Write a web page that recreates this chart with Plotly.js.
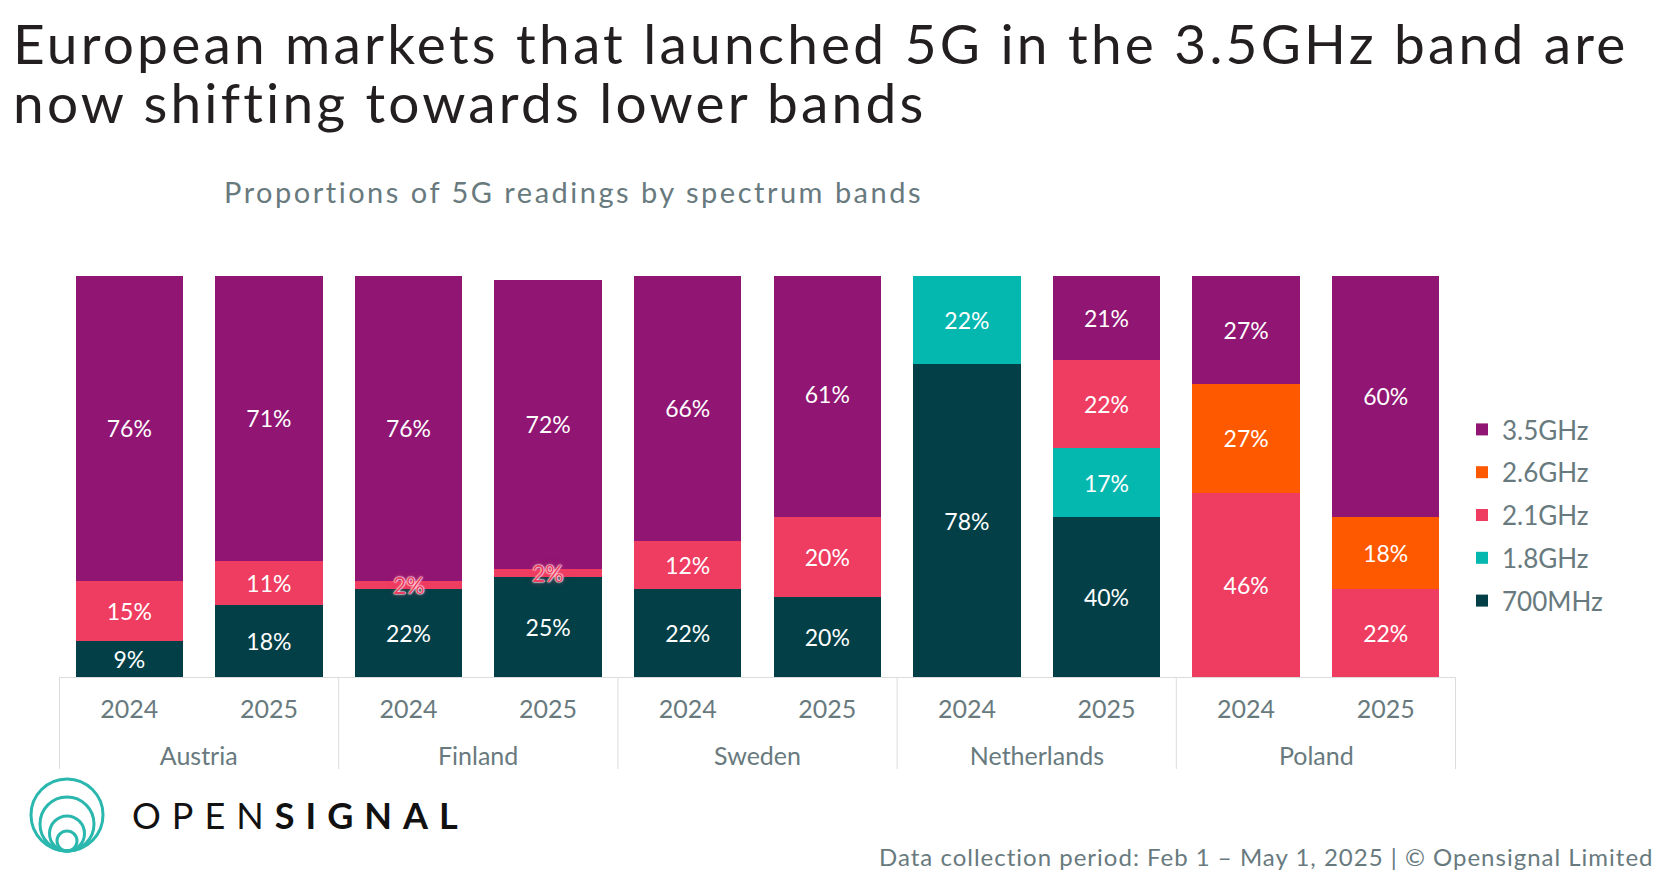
<!DOCTYPE html>
<html>
<head>
<meta charset="utf-8">
<script src="https://cdn.plot.ly/plotly-3.0.1.min.js"></script>
<style>
  html, body { margin: 0; padding: 0; background: #ffffff; }
  #chart { width: 1670px; height: 872px; }
</style>
</head>
<body>
<div id="chart"></div>
<script>
// ---- Data ----
const countries = ['Austria','Austria','Finland','Finland','Sweden','Sweden','Netherlands','Netherlands','Poland','Poland'];
const years     = ['2024','2025','2024','2025','2024','2025','2024','2025','2024','2025'];

const band700MHz = [9, 18, 22, 25, 22, 20, 78, 40, null, null];
const band18GHz  = [null, null, null, null, null, null, 22, 17, null, null];
const band21GHz  = [15, 11, 2, 2, 12, 20, null, 22, 46, 22];
const band26GHz  = [null, null, null, null, null, null, null, null, 27, 18];
const band35GHz  = [76, 71, 76, 72, 66, 61, null, 21, 27, 60];

const seriesNames  = ['700MHz', '1.8GHz', '2.1GHz', '2.6GHz', '3.5GHz'];
const seriesValues = [band700MHz, band18GHz, band21GHz, band26GHz, band35GHz];
const seriesColors = ['#023f47', '#05b8af', '#ef3c61', '#ff5900', '#911573'];

const titleLines = ['European markets that launched 5G in the 3.5GHz band are', 'now shifting towards lower bands'];
const subtitleText = 'Proportions of 5G readings by spectrum bands';
const footerText = 'Data collection period: Feb 1 \u2013 May 1, 2025 | \u00a9 Opensignal Limited';

// ---- Derived category keys / groups ----
const xKeys = countries.map((c, i) => c + ' ' + years[i]);
const groupNames = [...new Set(countries)];
const groupCenters = groupNames.map(g => {
  const idx = countries.map((c, i) => c === g ? i : -1).filter(i => i >= 0);
  return (idx[0] + idx[idx.length - 1]) / 2;
});
const groupBounds = [-0.5];
groupNames.forEach(g => { groupBounds.push(countries.lastIndexOf(g) + 0.5); });

// ---- Geometry helpers ----
const W = 1670, H = 872;
const M = {l: 59, r: 214, t: 276, b: 195};
const PW = W - M.l - M.r, PH = H - M.t - M.b;
const px2x = px => (px - M.l) / PW;
const py2y = py => (H - M.b - py) / PH;

const FONT = 'Lato, "Open Sans", sans-serif';
const GREY = '#687a7e';
const THIN = 5; // segments below this share get their label drawn on top (highlighted)

// ---- Traces ----
const traces = seriesNames.map((name, i) => {
  const vals = seriesValues[i];
  return {
    type: 'bar',
    name: name,
    legendgroup: name,
    legendrank: seriesNames.length - i,
    x: xKeys,
    y: vals,
    text: vals.map(v => (v === null || v < THIN) ? '' : v + '%'),
    textposition: 'inside',
    insidetextanchor: 'middle',
    textangle: 0,
    constraintext: 'none',
    textfont: {family: FONT, size: 23, color: '#ffffff'},
    marker: {color: seriesColors[i], line: {width: 0}},
    hoverinfo: 'skip'
  };
});

// invisible carrier so the country-level axis (xaxis2) is drawn
traces.push({
  type: 'scatter',
  mode: 'markers',
  x: groupCenters,
  y: groupCenters.map(() => 0),
  xaxis: 'x2',
  yaxis: 'y',
  marker: {opacity: 0, size: 1},
  showlegend: false,
  hoverinfo: 'skip'
});

// ---- Labels of thin segments (drawn above all bars) ----
const thinLabels = [];
xKeys.forEach((key, k) => {
  let base = 0;
  seriesValues.forEach((vals, i) => {
    const v = vals[k];
    if (v === null) return;
    if (v < THIN) {
      thinLabels.push({
        text: v + '%',
        xref: 'x', yref: 'y',
        x: key, y: base + v / 2,
        xanchor: 'center', yanchor: 'middle',
        showarrow: false,
        font: {
          family: FONT, size: 23, color: seriesColors[i],
          shadow: '0 0 1px #fff, 0 0 2px #fff, 0 0 2px #fff, 0 0 6px rgba(239,60,97,0.8)'
        }
      });
    }
    base += v;
  });
});

// ---- Shapes: group dividers + logo circles ----
const shapes = groupBounds.map(b => ({
  type: 'line', xref: 'x', yref: 'paper',
  x0: b, x1: b, y0: 0, y1: py2y(769),
  line: {color: '#dcdcdc', width: 1}
}));

const logoCx = 67, logoBottom = 851;
const logoDiams = [72, 54, 35, 20];
logoDiams.forEach(d => shapes.push({
  type: 'circle',
  xref: 'paper', yref: 'paper',
  xsizemode: 'pixel', ysizemode: 'pixel',
  xanchor: px2x(logoCx), yanchor: py2y(logoBottom),
  x0: -d / 2, x1: d / 2, y0: 0, y1: d,
  line: {color: '#2ab7ae', width: 3},
  fillcolor: 'rgba(0,0,0,0)'
}));

const layout = {
  width: W, height: H,
  margin: M,
  paper_bgcolor: '#ffffff',
  plot_bgcolor: '#ffffff',
  barmode: 'stack',
  bargap: 0.23,
  hovermode: false,
  title: {
    text: titleLines.map(t => '<span style="font-size:55px;letter-spacing:3.2px">' + t + '</span>').join('<br>'),
    font: {family: FONT, size: 45, color: '#231f20'},
    xref: 'container', yref: 'container',
    x: 13 / W, xanchor: 'left',
    y: 1 - 64 / H, yanchor: 'top',
    pad: {t: 0, b: 0, l: 0, r: 0}
  },
  xaxis: {
    type: 'category',
    tickmode: 'array',
    tickvals: xKeys,
    ticktext: years,
    showline: true, linecolor: '#dcdcdc', linewidth: 1,
    ticks: '',
    ticklabelstandoff: 10,
    tickfont: {family: FONT, size: 25, color: GREY},
    showgrid: false, zeroline: false
  },
  xaxis2: {
    overlaying: 'x',
    anchor: 'y',
    side: 'bottom',
    type: 'linear',
    range: [-0.5, xKeys.length - 0.5],
    tickmode: 'array',
    tickvals: groupCenters,
    ticktext: groupNames,
    showline: false, showgrid: false, zeroline: false,
    ticks: '',
    ticklabelstandoff: 62,
    tickfont: {family: FONT, size: 25, color: GREY}
  },
  yaxis: {
    range: [0, 100],
    visible: false,
    fixedrange: true
  },
  showlegend: true,
  legend: {
    traceorder: 'grouped',
    tracegroupgap: 6,
    x: px2x(1462), xanchor: 'left',
    y: py2y(406), yanchor: 'top',
    font: {family: FONT, size: 26, color: GREY},
    bgcolor: 'rgba(0,0,0,0)',
    itemclick: false, itemdoubleclick: false
  },
  shapes: shapes,
  annotations: thinLabels.concat([
    {
      text: '<span style="letter-spacing:2.5px">' + subtitleText + '</span>',
      xref: 'paper', yref: 'paper',
      x: px2x(573), y: py2y(192),
      xanchor: 'center', yanchor: 'middle',
      showarrow: false,
      font: {family: FONT, size: 29, color: GREY}
    },
    {
      text: '<span style="letter-spacing:11px">OPEN<b>SIGNAL</b></span>',
      xref: 'paper', yref: 'paper',
      x: px2x(130), y: py2y(815),
      xanchor: 'left', yanchor: 'middle',
      showarrow: false,
      font: {family: FONT, size: 36, color: '#111111'}
    },
    {
      text: '<span style="letter-spacing:1px">' + footerText + '</span>',
      xref: 'paper', yref: 'paper',
      x: px2x(1656), y: py2y(856),
      xanchor: 'right', yanchor: 'middle',
      showarrow: false,
      font: {family: FONT, size: 24, color: GREY}
    }
  ])
};

Plotly.newPlot('chart', traces, layout, {displayModeBar: false, staticPlot: true});
</script>
</body>
</html>
